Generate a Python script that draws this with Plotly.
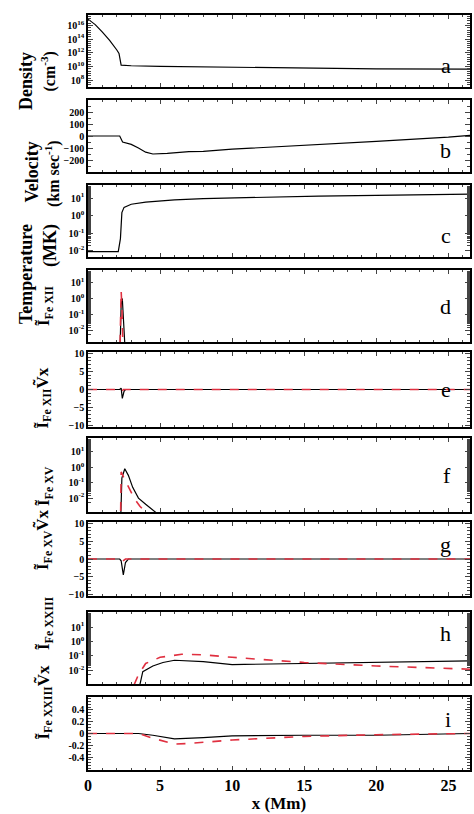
import plotly.graph_objects as go

# Data
xa = [0, 0.5, 1.0, 1.5, 2.0, 2.15, 2.3, 3, 5, 10, 15, 20, 26.5]
ya = [10**16.9, 10**16.1, 10**15.0, 10**13.8, 10**12.4, 10**11.9, 10**10.2, 10**10.1, 10**10.0, 10**9.85, 10**9.75, 10**9.65, 10**9.6]
xb = [0, 2.2, 2.4, 3.0, 3.5, 4.0, 4.5, 5.5, 7, 8, 10, 15, 20, 25, 26.5]
yb = [0, 0, -50, -70, -100, -135, -150, -145, -130, -128, -110, -80, -45, -10, 5]
xc = [0, 2.1, 2.25, 2.35, 2.5, 3, 4, 6, 8, 12, 16, 20, 26.5]
yc = [0.009, 0.009, 0.05, 1.5, 3.0, 4.5, 6, 8, 9.5, 11.5, 13, 14.5, 17]
xd_k = [2.2, 2.3, 2.38, 2.5, 2.62]; yd_k = [1e-4, 0.4, 1.0, 0.02, 1e-4]
xd_r = [2.2, 2.3, 2.35, 2.45]; yd_r = [1e-4, 3.0, 0.3, 1e-4]
xe_k = [0, 2.2, 2.3, 2.38, 2.5, 2.6, 26.5]; ye_k = [0, 0, 0.4, -2.5, -0.5, 0, 0]
xe_r = [0, 2.25, 2.35, 2.45, 26.5]; ye_r = [0, 0, -0.6, 0, 0]
xf_k = [2.25, 2.35, 2.55, 2.8, 3.1, 3.5, 4.0, 4.8]; yf_k = [1e-4, 0.2, 0.8, 0.3, 0.05, 0.01, 0.004, 1e-3]
xf_r = [2.25, 2.3, 2.5, 2.8, 3.2, 3.6, 4.1]; yf_r = [1e-4, 0.5, 0.2, 0.05, 0.01, 3e-3, 1e-3]
xg_k = [0, 2.2, 2.3, 2.45, 2.6, 2.8, 26.5]; yg_k = [0, 0, -0.5, -4.5, -1.0, 0, 0]
xg_r = [0, 2.25, 2.4, 2.6, 26.5]; yg_r = [0, 0, -0.6, 0, 0]
xh_k = [3.6, 3.8, 4.5, 5.2, 6, 8, 10, 15, 20, 26.5]; yh_k = [1e-3, 8e-3, 2e-2, 3.5e-2, 5e-2, 4e-2, 2.5e-2, 3e-2, 4e-2, 4.5e-2]
xh_r = [3.2, 3.5, 4.0, 5.0, 6.5, 8, 10, 15, 20, 26.5]; yh_r = [1e-3, 5e-3, 3e-2, 8e-2, 0.13, 0.12, 0.08, 0.035, 0.02, 0.012]
xi_k = [0, 3.5, 4.5, 6, 8, 10, 15, 20, 26.5]; yi_k = [0, 0, -0.03, -0.09, -0.07, -0.04, -0.03, -0.03, 0]
xi_r = [0, 3.5, 4.5, 6, 7, 10, 15, 20, 26.5]; yi_r = [0, 0, -0.08, -0.18, -0.17, -0.11, -0.05, -0.02, 0]
letters = ["a", "b", "c", "d", "e", "f", "g", "h", "i"]

H, W = 814, 474
ML, MR = 88, 4
PW = W - ML - MR
pix = [(15, 87), (100, 172), (185, 257), (270, 342), (352, 427), (438, 512), (522, 596), (612, 684), (697, 770)]
mt, mb = 15, 44
ph = H - mt - mb
doms = [[(H - mb - b) / ph, (H - mb - t) / ph] for t, b in pix]

fig = go.Figure()
series = [
    [(xa, ya, "k")], [(xb, yb, "k")], [(xc, yc, "k")],
    [(xd_k, yd_k, "k"), (xd_r, yd_r, "r")],
    [(xe_k, ye_k, "k"), (xe_r, ye_r, "r")],
    [(xf_k, yf_k, "k"), (xf_r, yf_r, "r")],
    [(xg_k, yg_k, "k"), (xg_r, yg_r, "r")],
    [(xh_k, yh_k, "k"), (xh_r, yh_r, "r")],
    [(xi_k, yi_k, "k"), (xi_r, yi_r, "r")],
]
for i, sl in enumerate(series):
    for xs, ys, c in sl:
        line = dict(color="black", width=1.2) if c == "k" else dict(color="#e03040", width=1.6, dash="dash")
        fig.add_trace(go.Scatter(x=xs, y=ys, mode="lines", line=line, showlegend=False,
                                 xaxis="x" if i == 0 else f"x{i+1}", yaxis="y" if i == 0 else f"y{i+1}"))

LOGT = ["10<sup>-2</sup>", "10<sup>-1</sup>", "10<sup>0</sup>", "10<sup>1</sup>"]
yspecs = [
    dict(type="log", range=[7, 17.5], tickvals=[1e8, 1e10, 1e12, 1e14, 1e16],
         ticktext=["10<sup>8</sup>", "10<sup>10</sup>", "10<sup>12</sup>", "10<sup>14</sup>", "10<sup>16</sup>"]),
    dict(range=[-300, 300], tickvals=[-200, -100, 0, 100, 200]),
    dict(type="log", range=[-2.35, 1.75], tickvals=[0.01, 0.1, 1, 10], ticktext=LOGT),
    dict(type="log", range=[-2.75, 1.8], tickvals=[0.01, 0.1, 1, 10], ticktext=LOGT),
    dict(range=[-10.5, 10.5], tickvals=[-10, -5, 0, 5, 10]),
    dict(type="log", range=[-2.9, 1.9], tickvals=[0.01, 0.1, 1, 10], ticktext=LOGT),
    dict(range=[-10.5, 10.5], tickvals=[-10, -5, 0, 5, 10]),
    dict(type="log", range=[-2.95, 2.05], tickvals=[0.01, 0.1, 1, 10], ticktext=LOGT),
    dict(range=[-0.62, 0.62], tickvals=[-0.4, -0.2, 0, 0.2, 0.4], ticktext=["-0.4", "-0.2", "0", "0.2", "0.4"]),
]
layout = dict(width=W, height=H, margin=dict(l=ML, r=MR, t=mt, b=mb, autoexpand=False),
              plot_bgcolor="white", paper_bgcolor="white")
for i in range(9):
    sx = "" if i == 0 else str(i + 1)
    xa_ = dict(domain=[0, 1], range=[0, 26.5], anchor=f"y{sx}", showline=True, mirror="ticks",
               linecolor="black", linewidth=1.5, ticks="inside", ticklen=4, tickvals=[0, 5, 10, 15, 20, 25],
               minor=dict(ticks="inside", ticklen=2, dtick=1), showgrid=False, zeroline=False, automargin=False,
               showticklabels=(i == 8), tickfont=dict(family="Liberation Serif", size=16, color="black", weight="bold"))
    if i == 8:
        xa_["title"] = dict(text="<b>x (Mm)</b>", font=dict(family="Liberation Serif", size=17, color="black"), standoff=0)
    else:
        xa_["matches"] = "x9"
    layout[f"xaxis{sx}"] = xa_
    layout[f"yaxis{sx}"] = dict(domain=doms[i], anchor=f"x{sx}", showline=True, mirror="ticks", linecolor="black",
                                linewidth=1.5, ticks="inside", ticklen=5, showgrid=False, zeroline=False, automargin=False,
                                tickfont=dict(family="Liberation Serif", size=10, color="black", weight="bold"),
                                minor=dict(ticks="inside", ticklen=3), **yspecs[i])
fig.update_layout(**layout)

ann = []
for i, L in enumerate(letters):
    t, b = pix[i]
    ann.append(dict(text=L, x=0.955, y=1 - ((t + b) / 2 - mt) / ph, xref="paper", yref="paper", showarrow=False,
                    font=dict(family="Liberation Serif", size=22, color="black")))
def ylab(text, xpx, ypx, size=16):
    ann.append(dict(text=text, x=(xpx - ML) / PW, y=1 - (ypx - mt) / ph, xref="paper", yref="paper",
                    showarrow=False, textangle=-90, font=dict(family="Liberation Serif", size=size, color="black")))
ylab("<b>Density</b>", 14, 50, 18)
ylab("<b>(cm<sup>-3</sup>)</b>", 36, 50, 16)
ylab("<b>Velocity</b>", 20, 140, 18)
ylab("<b>(km sec<sup>-1</sup>)</b>", 40, 138, 16)
ylab("<b>Temperature</b>", 14, 222, 18)
ylab("<b>(MK)</b>", 38, 222, 18)
ylab("<b>Ĩ<sub>Fe XII</sub></b>", 32, 306, 17)
ylab("<b>Ĩ<sub>Fe XII</sub>Ṽx</b>", 30, 398, 17)
ylab("<b>Ĩ<sub>Fe XV</sub></b>", 32, 486, 17)
ylab("<b>Ĩ<sub>Fe XV</sub>Ṽx</b>", 30, 572, 17)
ylab("<b>Ĩ<sub>Fe XXIII</sub></b>", 32, 652, 17)
ylab("<b>Ĩ<sub>Fe XXIII</sub>Ṽx</b>", 30, 742, 17)
fig.update_layout(annotations=ann)
fig.write_html("out.html", config={"displayModeBar": False})
with open("out.html", encoding="utf-8") as f:
    html = f.read()
html = html.replace("<body>", '<body style="margin:0;overflow:hidden">', 1)
with open("out.html", "w", encoding="utf-8") as f:
    f.write(html)
